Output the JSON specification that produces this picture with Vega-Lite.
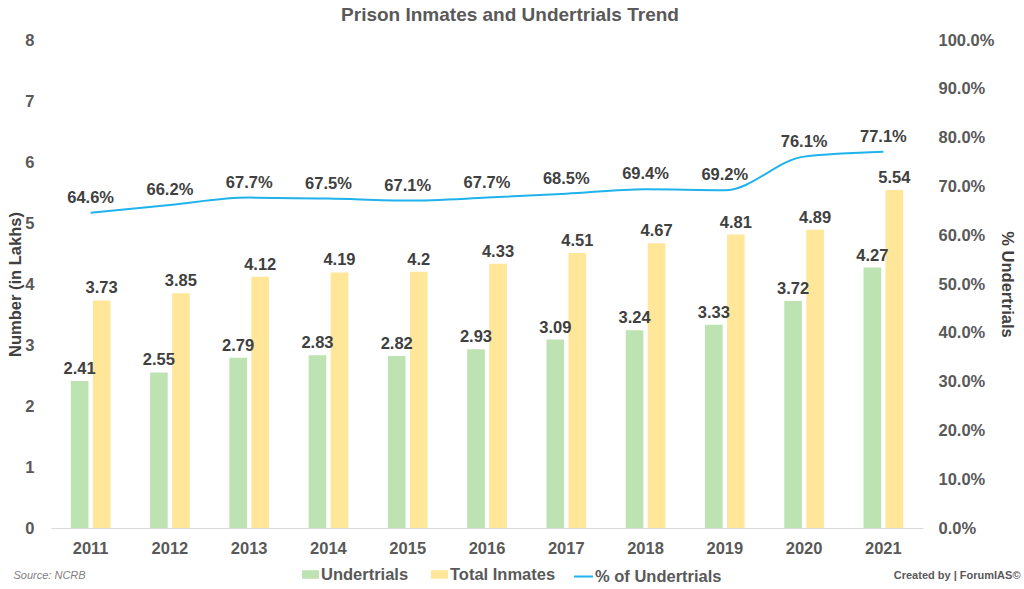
{
  "$schema": "https://vega.github.io/schema/vega-lite/v6.json",
  "width": 872,
  "height": 488,
  "autosize": {"type": "none"},
  "padding": {"left": 51, "top": 40, "right": 101, "bottom": 61},
  "background": "white",
  "title": {
    "text": "Prison Inmates and Undertrials Trend",
    "font": "Liberation Sans",
    "fontSize": 19,
    "fontWeight": "bold",
    "color": "#595959",
    "anchor": "middle",
    "dx": 23,
    "offset": 7
  },
  "config": {
    "view": {"stroke": null},
    "font": "Liberation Sans",
    "axis": {
      "labelFont": "Liberation Sans",
      "labelFontWeight": "bold",
      "labelFontSize": 16.5,
      "labelColor": "#595959",
      "titleFont": "Liberation Sans",
      "titleFontWeight": "bold",
      "titleFontSize": 16.5,
      "titleColor": "#404040",
      "grid": false,
      "ticks": false
    },
    "legend": {
      "labelFont": "Liberation Sans",
      "labelFontWeight": "bold",
      "labelFontSize": 16.5,
      "labelColor": "#595959"
    }
  },
  "datasets": {
    "bars": [
      {"year": "2011", "series": "Undertrials", "value": 2.41},
      {"year": "2011", "series": "Total Inmates", "value": 3.73},
      {"year": "2012", "series": "Undertrials", "value": 2.55},
      {"year": "2012", "series": "Total Inmates", "value": 3.85},
      {"year": "2013", "series": "Undertrials", "value": 2.79},
      {"year": "2013", "series": "Total Inmates", "value": 4.12},
      {"year": "2014", "series": "Undertrials", "value": 2.83},
      {"year": "2014", "series": "Total Inmates", "value": 4.19},
      {"year": "2015", "series": "Undertrials", "value": 2.82},
      {"year": "2015", "series": "Total Inmates", "value": 4.2},
      {"year": "2016", "series": "Undertrials", "value": 2.93},
      {"year": "2016", "series": "Total Inmates", "value": 4.33},
      {"year": "2017", "series": "Undertrials", "value": 3.09},
      {"year": "2017", "series": "Total Inmates", "value": 4.51},
      {"year": "2018", "series": "Undertrials", "value": 3.24},
      {"year": "2018", "series": "Total Inmates", "value": 4.67},
      {"year": "2019", "series": "Undertrials", "value": 3.33},
      {"year": "2019", "series": "Total Inmates", "value": 4.81},
      {"year": "2020", "series": "Undertrials", "value": 3.72},
      {"year": "2020", "series": "Total Inmates", "value": 4.89},
      {"year": "2021", "series": "Undertrials", "value": 4.27},
      {"year": "2021", "series": "Total Inmates", "value": 5.54}
    ],
    "pct": [
      {"year": "2011", "series": "% of Undertrials", "pct": 0.646},
      {"year": "2012", "series": "% of Undertrials", "pct": 0.662},
      {"year": "2013", "series": "% of Undertrials", "pct": 0.677},
      {"year": "2014", "series": "% of Undertrials", "pct": 0.675},
      {"year": "2015", "series": "% of Undertrials", "pct": 0.671},
      {"year": "2016", "series": "% of Undertrials", "pct": 0.677},
      {"year": "2017", "series": "% of Undertrials", "pct": 0.685},
      {"year": "2018", "series": "% of Undertrials", "pct": 0.694},
      {"year": "2019", "series": "% of Undertrials", "pct": 0.692},
      {"year": "2020", "series": "% of Undertrials", "pct": 0.761},
      {"year": "2021", "series": "% of Undertrials", "pct": 0.771}
    ]
  },
  "layer": [
    {
      "layer": [
        {
          "data": {"name": "bars"},
          "mark": {"type": "bar"},
          "encoding": {
            "x": {
              "field": "year", "type": "nominal",
              "scale": {"paddingInner": 0.5, "paddingOuter": 0.25},
              "axis": {
                "orient": "bottom",
                "title": "Source: NCRB",
                "titleFontSize": 11,
                "titleFontStyle": "italic",
                "titleFontWeight": "normal",
                "titleColor": "#7f7f7f",
                "titleAnchor": "start",
                "titleAlign": "left",
                "titleBaseline": "middle",
                "titleX": -38,
                "titleY": 47,
                "labelAngle": 0,
                "labelPadding": 12,
                "domain": true,
                "domainColor": "#d9d9d9",
                "domainWidth": 1
              }
            },
            "xOffset": {
              "field": "series", "type": "nominal",
              "sort": ["Undertrials", "Total Inmates"],
              "scale": {"paddingInner": 0.2, "paddingOuter": 0}
            },
            "y": {
              "field": "value", "type": "quantitative",
              "scale": {"domain": [0, 8]},
              "axis": {
                "title": "Number (in Lakhs)",
                "values": [0, 1, 2, 3, 4, 5, 6, 7, 8],
                "format": "d",
                "domain": false,
                "labelPadding": 17,
                "titlePadding": 1
              }
            },
            "fill": {
              "field": "series", "type": "nominal",
              "sort": ["Undertrials", "Total Inmates"],
              "scale": {"domain": ["Undertrials", "Total Inmates"], "range": ["#BEE3B2", "#FFE699"]},
              "legend": {
                "title": null,
                "orient": "none",
                "direction": "horizontal",
                "legendX": 251,
                "legendY": 526,
                "symbolType": "M-1,-0.5H1V0.5H-1Z",
                "symbolSize": 289,
                "symbolStrokeWidth": 0,
                "columnPadding": 22,
                "labelOffset": 2
              }
            }
          }
        },
        {
          "data": {"name": "bars"},
          "mark": {"type": "text", "baseline": "bottom", "dy": -4, "fontSize": 16.5, "fontWeight": "bold", "color": "#404040", "font": "Liberation Sans"},
          "encoding": {
            "x": {"field": "year", "type": "nominal"},
            "xOffset": {"field": "series", "type": "nominal", "sort": ["Undertrials", "Total Inmates"]},
            "y": {"field": "value", "type": "quantitative"},
            "text": {"field": "value", "type": "quantitative"}
          }
        }
      ]
    },
    {
      "layer": [
        {
          "data": {"name": "pct"},
          "mark": {"type": "line", "interpolate": "monotone", "strokeWidth": 2},
          "encoding": {
            "x": {
              "field": "year", "type": "nominal",
              "axis": {
                "orient": "bottom",
                "title": "Created by | ForumIAS©",
                "titleFontSize": 11,
                "titleFontWeight": "bold",
                "titleColor": "#595959",
                "titleAnchor": "end",
                "titleAlign": "right",
                "titleBaseline": "middle",
                "titleX": 969,
                "titleY": 47,
                "labels": false,
                "domain": false
              }
            },
            "y": {
              "field": "pct", "type": "quantitative",
              "scale": {"domain": [0, 1]},
              "axis": {
                "orient": "right",
                "title": "% Undertrials",
                "format": ".1%",
                "values": [0, 0.1, 0.2, 0.3, 0.4, 0.5, 0.6, 0.7, 0.8, 0.9, 1.0],
                "domain": false,
                "labelPadding": 15,
                "titlePadding": 5
              }
            },
            "stroke": {
              "field": "series", "type": "nominal",
              "scale": {"domain": ["% of Undertrials"], "range": ["#1FB2EC"]},
              "legend": {
                "title": null,
                "orient": "none",
                "legendX": 522,
                "legendY": 526,
                "symbolType": "stroke",
                "symbolStrokeWidth": 2,
                "symbolSize": 361,
                "labelOffset": 1
              }
            }
          }
        },
        {
          "data": {"name": "pct"},
          "mark": {"type": "text", "baseline": "bottom", "dy": -7, "fontSize": 16.5, "fontWeight": "bold", "color": "#404040", "font": "Liberation Sans"},
          "encoding": {
            "x": {"field": "year", "type": "nominal"},
            "y": {"field": "pct", "type": "quantitative"},
            "text": {"field": "pct", "type": "quantitative", "format": ".1%"}
          }
        }
      ]
    }
  ],
  "resolve": {"scale": {"y": "independent"}, "axis": {"x": "independent"}}
}
